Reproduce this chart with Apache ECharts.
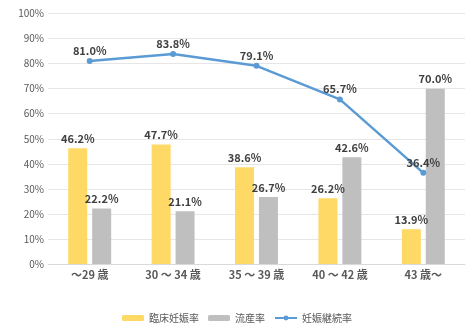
<!DOCTYPE html>
<html>
<head>
<meta charset="utf-8">
<script src="https://cdn.jsdelivr.net/npm/echarts@6/dist/echarts.min.js"></script>
<style>
  html, body { margin: 0; padding: 0; background: #fff; }
  #chart { width: 474px; height: 332px; }
</style>
</head>
<body>
<div id="chart"></div>
<script>
// Age groups and rates (%) per group
const categories = ['～29 歳', '30 ～ 34 歳', '35 ～ 39 歳', '40 ～ 42 歳', '43 歳～'];
const clinicalPregnancy = [46.2, 47.7, 38.6, 26.2, 13.9];
const miscarriage = [22.2, 21.1, 26.7, 42.6, 70.0];
const ongoingPregnancy = [81.0, 83.8, 79.1, 65.7, 36.4];
const seriesNames = ['臨床妊娠率', '流産率', '妊娠継続率'];

const font = '"Noto Sans CJK JP", "Noto Sans", sans-serif';
const labelStyle = {
  show: true,
  position: 'top',
  distance: 4,
  color: '#404040',
  fontSize: 11,
  fontWeight: 'bold',
  fontFamily: font,
  formatter: p => p.value.toFixed(1) + '%'
};

const chart = echarts.init(document.getElementById('chart'));
chart.setOption({
  animation: false,
  textStyle: { fontFamily: font },
  grid: { left: 48, right: 9, top: 13.5, bottom: 68 },
  legend: {
    bottom: 4,
    left: 'center',
    itemWidth: 22,
    itemHeight: 6,
    itemGap: 9,
    textStyle: { color: '#595959', fontSize: 10, fontFamily: font },
    data: seriesNames
  },
  xAxis: {
    type: 'category',
    data: categories,
    axisLine: { lineStyle: { color: '#d9d9d9', width: 1 } },
    axisTick: { show: false },
    axisLabel: { color: '#595959', fontSize: 11, fontWeight: 'bold', fontFamily: font, margin: 5 }
  },
  yAxis: {
    type: 'value',
    min: 0,
    max: 100,
    interval: 10,
    axisLabel: { color: '#595959', fontSize: 10, fontFamily: font, margin: 4, formatter: '{value}%' },
    axisLine: { show: false },
    axisTick: { show: false },
    splitLine: { lineStyle: { color: '#e6e6e6', width: 1 } }
  },
  series: [
    {
      name: seriesNames[0],
      type: 'bar',
      data: clinicalPregnancy,
      barWidth: 19,
      barGap: '26%',
      itemStyle: { color: '#FFD966' },
      label: labelStyle
    },
    {
      name: seriesNames[1],
      type: 'bar',
      data: miscarriage,
      barWidth: 19,
      barGap: '26%',
      itemStyle: { color: '#BFBFBF' },
      label: labelStyle
    },
    {
      name: seriesNames[2],
      type: 'line',
      data: ongoingPregnancy,
      symbol: 'circle',
      symbolSize: 6,
      lineStyle: { color: '#5B9BD5', width: 2.5 },
      itemStyle: { color: '#5B9BD5' },
      label: Object.assign({}, labelStyle, { distance: 2 }),
      z: 5
    }
  ]
});
</script>
</body>
</html>
